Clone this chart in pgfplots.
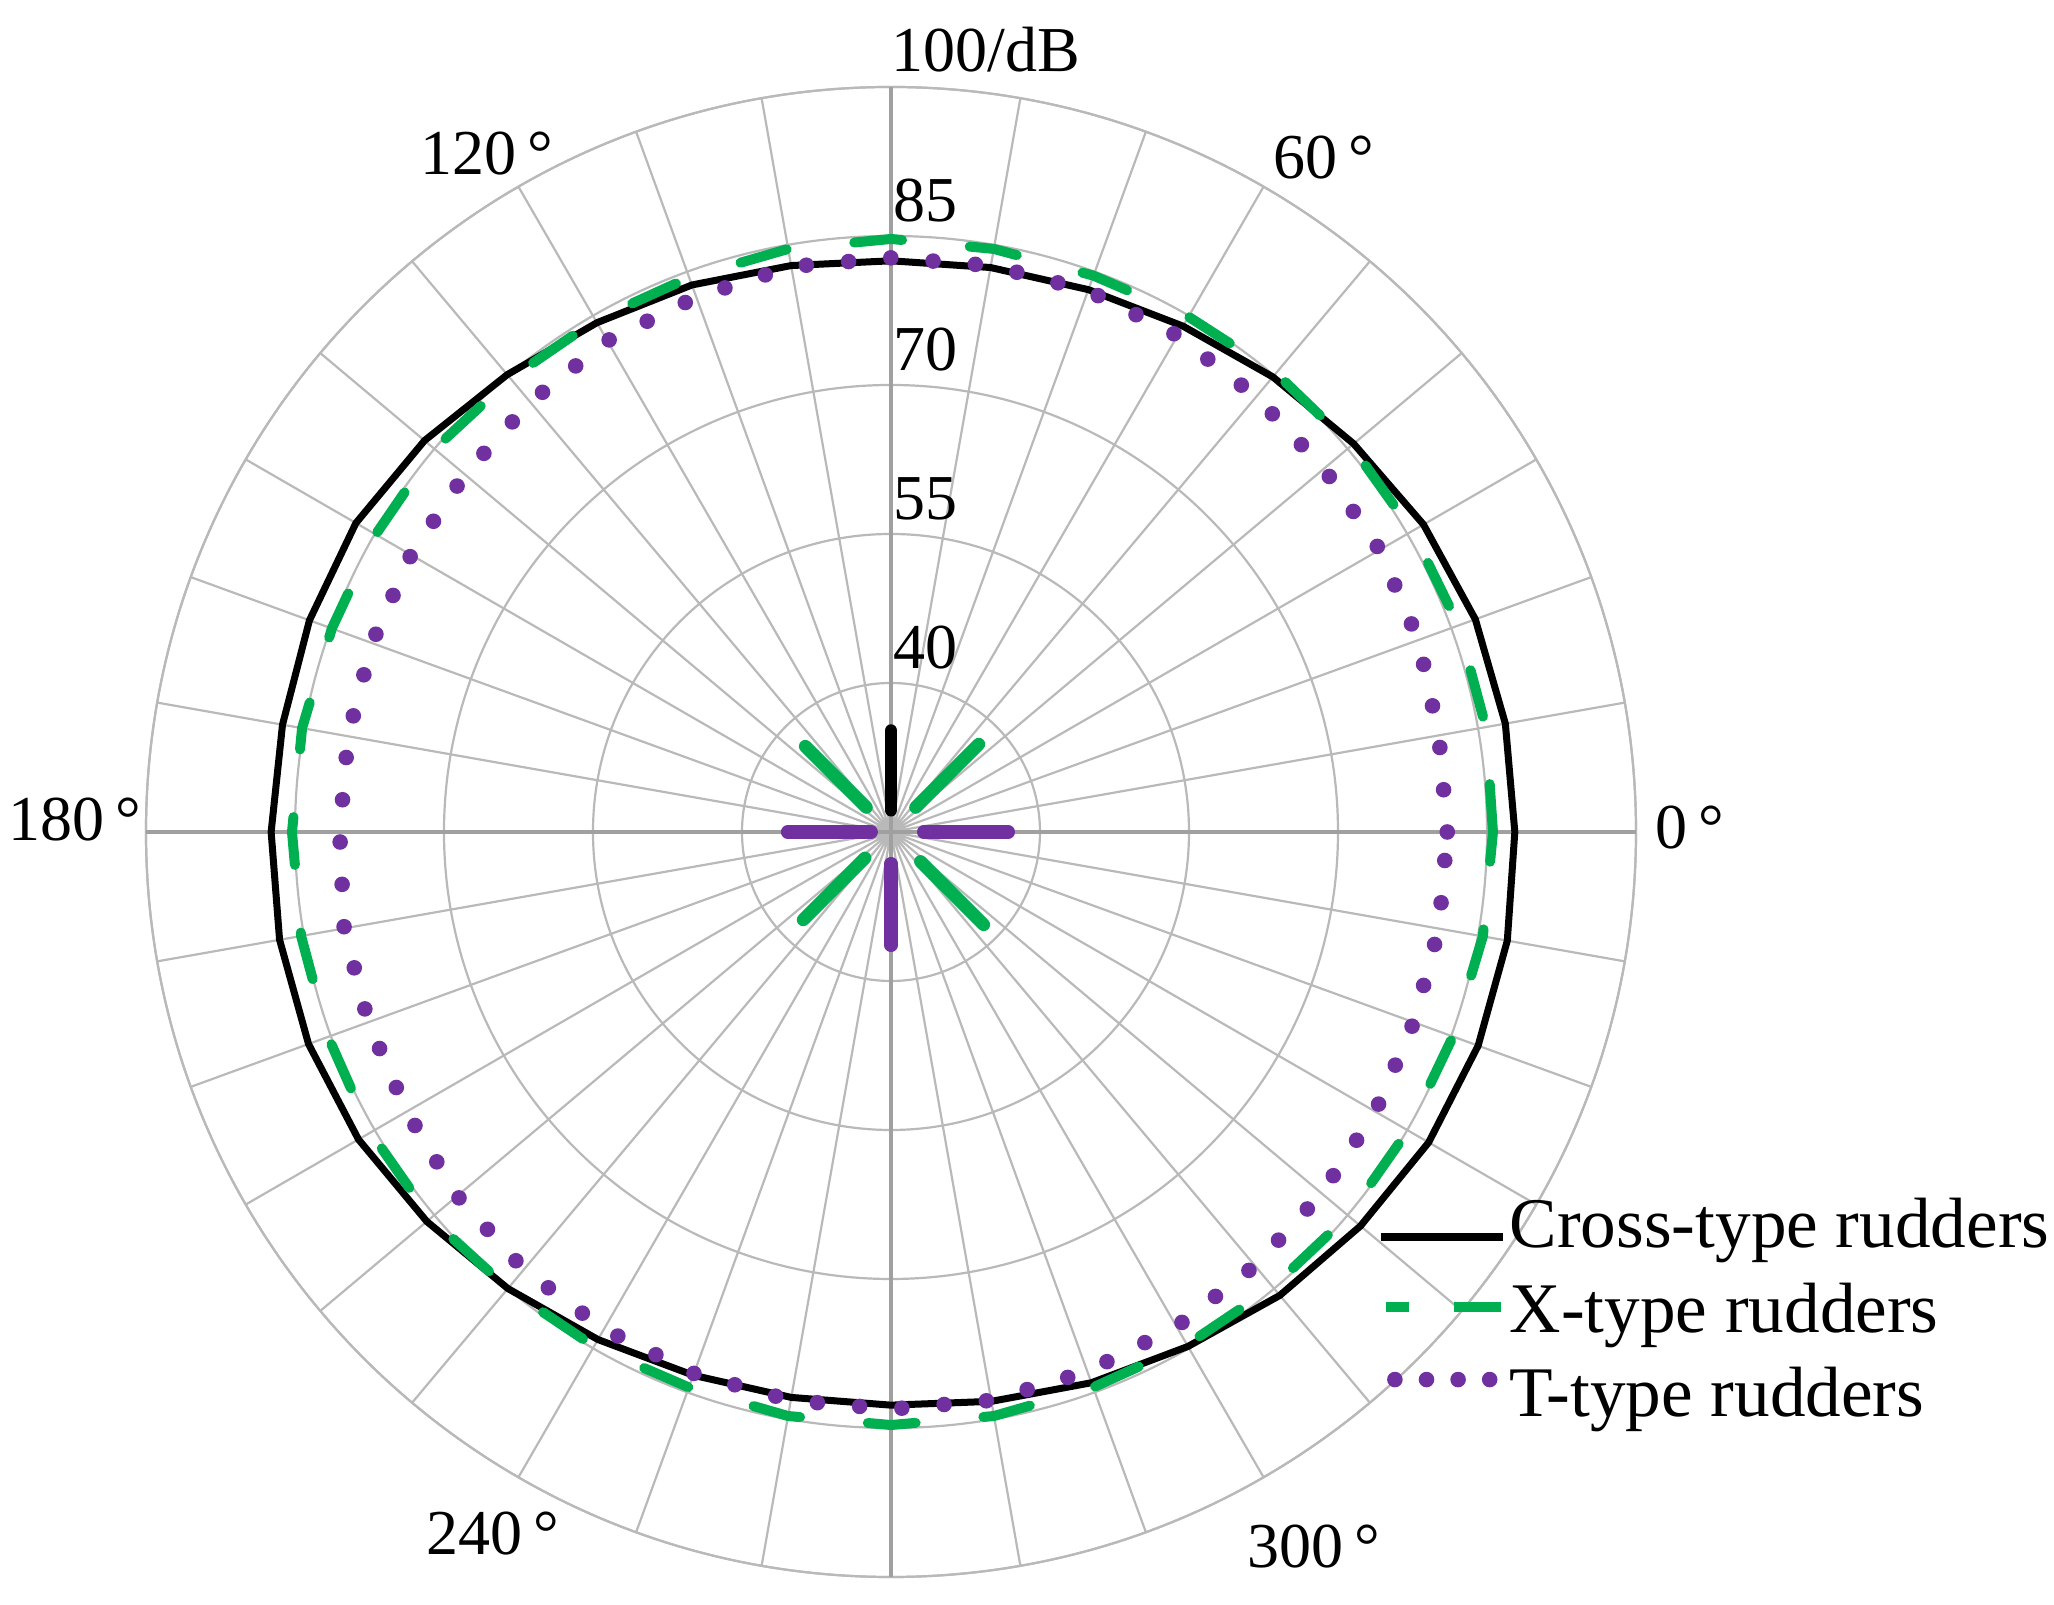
\documentclass[border=0pt]{standalone}
\usepackage{fontspec}
\setmainfont{Liberation Serif}
\usepackage{pgfplots}
\usepackage{pgfplotstable}
\pgfplotsset{compat=1.18}
\usepgfplotslibrary{polar}
\definecolor{xgreen}{RGB}{0,176,80}
\definecolor{tpurple}{RGB}{112,48,160}
\definecolor{gridgray}{RGB}{185,185,185}
\definecolor{axgray}{RGB}{160,160,160}

\pgfplotstableread{
a r
0 87.8
10 87.8
20 87.6
30 86.9
40 85.8
50 84.8
60 83.8
70 83.1
80 82.7
90 82.5
100 82.9
110 83.6
120 84.2
130 85.1
140 86.3
150 87.2
160 87.3
170 87.2
180 87.4
190 87.5
200 87.4
210 86.9
220 86.0
230 85.0
240 84.0
250 83.2
260 82.8
270 82.7
280 83.2
290 84.0
300 84.8
310 85.9
320 86.7
330 87.5
340 87.9
350 88.0
360 87.8
}\crossdata

\pgfplotstableread{
a r
0 85.6
10 85.8
20 85.8
30 85.6
40 85.5
50 85.3
60 84.9
70 84.6
80 84.6
90 84.7
100 84.6
110 84.4
120 84.5
130 84.6
140 85.0
150 84.9
160 84.9
170 85.2
180 85.3
190 85.3
200 85.3
210 85.5
220 85.5
230 85.0
240 84.8
250 84.5
260 84.7
270 84.7
280 84.7
290 84.5
300 84.6
310 84.8
320 85.1
330 85.1
340 85.2
350 85.5
360 85.6
}\xdata

\pgfplotstableread{
a r
0 81.0
10 81.0
20 81.5
30 81.8
40 81.9
50 82.2
60 82.7
70 83.0
80 82.9
90 82.8
100 82.8
110 82.3
120 82.1
130 81.5
140 81.0
150 80.8
160 80.6
170 80.5
180 80.5
190 80.9
200 81.0
210 81.3
220 82.0
230 82.5
240 82.8
250 83.0
260 83.1
270 83.1
280 83.1
290 82.8
300 82.5
310 82.0
320 81.6
330 81.3
340 81.0
350 81.0
360 81.0
}\tdata

\begin{document}
\begin{tikzpicture}
\begin{polaraxis}[
  name=pa,
  scale only axis, width=372.5bp, height=372.5bp,
  xmin=0, xmax=360, ymin=0, ymax=75,
  y filter/.expression={y-25},
  xtick={0,10,...,350}, ytick={15,30,45,60,75},
  xticklabels={}, yticklabels={},
  major tick length=0pt,
  grid=major,
  major grid style={gridgray, line width=0.55bp},
  extra x ticks={0,90,180,270}, extra x tick labels={},
  extra x tick style={grid=major, major grid style={axgray, line width=1bp}},
  axis line style={gridgray, line width=0.55bp},
  clip=false,
  legend cell align=left,
  legend style={at={(0.8265,0.2544)}, anchor=north west, draw=none, fill=none,
    inner sep=0pt, outer sep=0pt, column sep=0.75bp, row sep=4.1bp,
    font=\fontsize{17.8bp}{21bp}\selectfont,
    nodes={inner sep=0pt, text height=12.5bp, text depth=4.5bp},
    cells={anchor=west}},
]
\addplot[black, line width=1.75bp, line join=round,
  legend image code/.code={\path[draw=none, fill=none] (0bp,-6bp) rectangle (30.4bp,6bp);
    \draw[black, line width=1.9bp, solid] (0bp,-1.25bp) -- (30.4bp,-1.25bp);}]
  table[x=a,y=r] {\crossdata};
\addlegendentry{Cross-type rudders}
\addplot[xgreen, line width=2.5bp, line cap=round, dash pattern=on 12bp off 17bp,
  legend image code/.code={\path[draw=none, fill=none] (0bp,-6bp) rectangle (30.4bp,6bp);
    \draw[xgreen, line width=2.5bp, solid, line cap=butt] (1.25bp,2.25bp) -- (6.9bp,2.25bp);
    \draw[xgreen, line width=2.5bp, solid, line cap=butt] (18.1bp,2.25bp) -- (30bp,2.25bp);}]
  table[x=a,y=r] {\xdata};
\addlegendentry{X-type rudders}
\addplot[tpurple, line width=3.9bp, line cap=round, dash pattern=on 0bp off 10.6bp,
  legend image code/.code={\path[draw=none, fill=none] (0bp,-6bp) rectangle (30.4bp,6bp);
    \draw[tpurple, line width=3.9bp, line cap=round, dash pattern=on 0bp off 7.9bp] (3.4bp,5.3bp) -- (28bp,5.3bp);}]
  table[x=a,y=r] {\tdata};
\addlegendentry{T-type rudders}
% rudder icons at the centre
\addplot[forget plot, black, line width=3.2bp, line cap=round] coordinates {(90,27.2) (90,35.2)};
\addplot[forget plot, xgreen, line width=3.2bp, line cap=round] coordinates {(45,28.5) (45,37.5)};
\addplot[forget plot, xgreen, line width=3.2bp, line cap=round] coordinates {(135,28.5) (135,37.2)};
\addplot[forget plot, xgreen, line width=3.2bp, line cap=round] coordinates {(225,28.7) (225,37.5)};
\addplot[forget plot, xgreen, line width=3.2bp, line cap=round] coordinates {(315,29.2) (315,38.2)};
\addplot[forget plot, tpurple, line width=3.4bp, line cap=round] coordinates {(0,28.3) (0,36.8)};
\addplot[forget plot, tpurple, line width=3.4bp, line cap=round] coordinates {(180,27.0) (180,35.4)};
\addplot[forget plot, tpurple, line width=3.4bp, line cap=round] coordinates {(270,28.2) (270,36.4)};
% labels
\begin{scope}[every node/.style={font=\fontsize{16bp}{19bp}\selectfont, inner sep=0pt}]
\node[anchor=base west, xshift=0.5bp, yshift=3.5bp] at (axis cs:90,15) {40};
\node[anchor=base west, xshift=0.5bp, yshift=3.5bp] at (axis cs:90,30) {55};
\node[anchor=base west, xshift=0.5bp, yshift=3.5bp] at (axis cs:90,45) {70};
\node[anchor=base west, xshift=0.5bp, yshift=3.5bp] at (axis cs:90,60) {85};
\node[anchor=base west, xshift=0bp, yshift=3.8bp] at (axis cs:90,75) {100/dB};
\node at (axis cs:0.3,80.4) {0\,°};
\node at (axis cs:57.3,80.7) {60\,°};
\node at (axis cs:120.8,79.5) {120\,°};
\node at (axis cs:179.1,82.2) {180\,°};
\node at (axis cs:240.4,81.2) {240\,°};
\node at (axis cs:300.6,83.6) {300\,°};
\end{scope}
\end{polaraxis}
\path (pa.center) ++(-222.75bp,-191.75bp) rectangle ++(513.5bp,399.75bp);
\end{tikzpicture}
\end{document}
